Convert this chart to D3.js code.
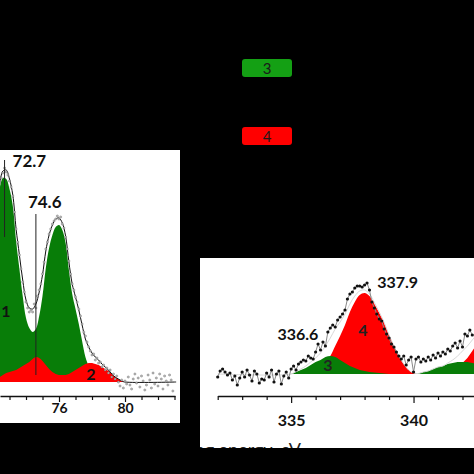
<!DOCTYPE html>
<html>
<head>
<meta charset="utf-8">
<script src="https://cdn.jsdelivr.net/npm/d3@7"></script>
<style>
  body { margin: 0; background: #000; }
  svg { display: block; }
  text { font-family: Lato, "Open Sans", sans-serif; }
</style>
</head>
<body>
<script>
// ---- left panel (Pt 4f region) ----
const leftStart = 72.4, leftStep = 0.1; // measured points, eV
const leftData = [
  199,204,209,214,210,207,201,195,186,170,
  153,140,127,113,100,90,80,74,70,72,
  70,78,74,86,92,98,108,120,133,140,
  148,153,158,161,163,166,163,165,158,154,
  145,133,121,108,98,92,85,80,73,66,
  58,50,46,40,35,31,27,28,22,24,
  19,20,15,17,12,14,9,12,5,8,
  3,6,0,-4,2,-6,1,-2,5,-3,
  -7,3,8,-1,4,-5,6,1,-8,-3,
  7,2,-6,9,-2,4,-4,8,3,-7,
  6,1,-3,7,2,-9
];
const leftGrid = [72.4,72.6,72.8,73.0,73.2,73.4,73.6,73.8,74.0,74.2,74.4,74.6,74.8,75.0,75.2,75.4,75.6,75.8,76.0,76.2,
  76.4,76.6,76.8,77.0,77.2,77.4,77.6,77.8,78.0,78.2,78.4,78.6,78.8,79.0,79.2,79.4,79.6,79.8,80.0];
const leftGreen = [193,204,203,193,176,141,113,86,64,54,50,53,66,86,114,134,147,155,157,152,
  139,112,88,73,58,41,25,16,10,7,5,3,2,1,0,0,0,0,0];
const leftRed = [5,7,9,10,11,12,14,16,18,20,23,25,24,21,17,13,10,8,7,7,
  7,8,10,12,14,16,18,19,19,18,17,15,13,11,8,5,3,1,0];
const leftPeaks = [72.7, 74.6];
const leftPeakTop = [222, 168];
const leftPeakBottom = [145, 7];
const leftTicks = [76, 80];

// ---- right panel ----
const rightStart = 332.0, rightStep = 0.1;
const rightData = [
  -3,3,5,2,-1,1,-6,-2,-11,-4,
  2,-3,4,-1,-7,3,0,-9,-5,-6,
  1,-3,4,-8,0,3,-10,-2,2,-4,
  5,8,4,10,12,14,13,18,16,15,
  22,30,24,32,28,42,46,49,47,54,
  57,60,64,75,80,82,86,88,88,87,
  89,91,84,72,66,60,55,53,45,40,
  36,30,27,22,18,15,18,9,14,17,
  2,15,17,12,15,13,17,14,19,16,
  21,18,22,20,25,23,28,31,26,33,
  27,40,38,44,39
];
const rightGrid = [335.0,335.2,335.4,335.6,335.8,336.0,336.2,336.4,336.6,336.8,337.0,337.2,337.4,337.6,337.8,338.0,338.2,338.4,338.6,338.8,
  339.0,339.2,339.4,339.6,339.8,340.0,340.2,340.4,340.6,340.8,341.0,341.2,341.4,341.6,341.8,342.0,342.2,342.4,342.6];
const rightGreen = [0,2,4,6,9,12,14,17,18,17,14,11,8,6,4,3,2,1.5,1,0.5,
  0,0,0,0,0,0,0.5,2,3,5,7,8,10,11,12,12,12,11,10];
const rightRed = [0,0.5,1,2,3,4,7,11,18,28,38,49,62,72,79,81,78,70,61,51,
  39,28,18,10,4,1,0,0,0,0,0,0,1,3,6,11,16,23,30];
const rightPeaks = [336.6, 337.9];
const rightTicks = [335, 340];
const legendLabels = ["3", "4"];

const W = 474, H = 474;
const green = "#087d08", red = "#ff0000";

const svg = d3.select("body").append("svg")
  .attr("width", W).attr("height", H)
  .style("background", "#000");

const defs = svg.append("defs");
defs.append("clipPath").attr("id", "clipL")
  .append("rect").attr("x", 0).attr("y", 150).attr("width", 180).attr("height", 273);
defs.append("clipPath").attr("id", "clipR")
  .append("rect").attr("x", 200).attr("y", 258).attr("width", 274).attr("height", 190);

// legend boxes
const legColors = [[242, 59, "#14a014"], [242, 127, red]];
legendLabels.forEach(function(lab, i) {
  svg.append("rect")
    .attr("x", legColors[i][0]).attr("y", legColors[i][1])
    .attr("width", 50).attr("height", 18).attr("rx", 3)
    .attr("fill", legColors[i][2]);
  svg.append("text")
    .attr("x", legColors[i][0] + 25).attr("y", legColors[i][1] + 15)
    .attr("text-anchor", "middle")
    .attr("font-size", 15).attr("fill", "#1a1a1a")
    .text(lab);
});

// ================= left panel =================
const gL = svg.append("g").attr("clip-path", "url(#clipL)");
gL.append("rect").attr("x", 0).attr("y", 150).attr("width", 180).attr("height", 273).attr("fill", "#fff");

const xL = d3.scaleLinear().domain([72.424, 83.03]).range([0, 175]);
const yL = d3.scaleLinear().domain([0, 232]).range([382, 150]);

const compL = leftGrid.map((e, i) => ({e: e, g: leftGreen[i], r: leftRed[i]}));
const areaL = key => d3.area().x(d => xL(d.e)).y0(yL(0)).y1(d => yL(d[key])).curve(d3.curveCatmullRom);

gL.append("path").datum(compL).attr("d", areaL("g")).attr("fill", green);
gL.append("path").datum(compL).attr("d", areaL("r")).attr("fill", red);

// fit envelope
const envL = compL.map(d => ({e: d.e, v: d.g + d.r})).concat([{e: 83.1, v: 0}]);
gL.append("path").datum(envL)
  .attr("d", d3.line().x(d => xL(d.e)).y(d => yL(d.v)).curve(d3.curveCatmullRom))
  .attr("fill", "none").attr("stroke", "#111").attr("stroke-width", 1);

const ptsL = leftData.map((v, i) => ({e: leftStart + i * leftStep, v: v}));
gL.selectAll("circle.pt").data(ptsL).enter().append("circle")
  .attr("cx", d => xL(d.e)).attr("cy", d => yL(d.v)).attr("r", 1.1)
  .attr("fill", "#bbb").attr("stroke", "#666").attr("stroke-width", 0.4);

// peak markers
leftPeaks.forEach(function(p, i) {
  gL.append("line")
    .attr("x1", xL(p)).attr("x2", xL(p))
    .attr("y1", yL(leftPeakTop[i])).attr("y2", yL(leftPeakBottom[i]))
    .attr("stroke", "#222").attr("stroke-width", 1);
});
gL.append("text").attr("x", xL(72.7) + 8).attr("y", 167)
  .attr("font-size", 17).attr("font-weight", "bold").attr("fill", "#111").text("72.7");
gL.append("text").attr("x", xL(74.6) - 8).attr("y", 208)
  .attr("font-size", 17).attr("font-weight", "bold").attr("fill", "#111").text("74.6");
gL.append("text").attr("x", 6).attr("y", 317).attr("text-anchor", "middle")
  .attr("font-size", 16).attr("font-weight", "bold").attr("fill", "#111").text("1");
gL.append("text").attr("x", 91).attr("y", 380).attr("text-anchor", "middle")
  .attr("font-size", 16).attr("font-weight", "bold").attr("fill", "#111").text("2");

const axL = gL.append("g").attr("transform", "translate(0,396)")
  .call(d3.axisBottom(xL).tickValues(d3.range(73, 84)).tickSizeInner(4).tickSizeOuter(0)
    .tickFormat(d => leftTicks.includes(d) ? d : ""));
axL.select(".domain").attr("stroke", "#111").attr("stroke-width", 1.5);
axL.selectAll(".tick line").attr("stroke", "#111").attr("stroke-width", 1.2)
  .attr("y2", d => leftTicks.includes(d) ? 6 : 4);
axL.selectAll(".tick text").attr("font-size", 14).attr("font-weight", "bold")
  .attr("fill", "#111").attr("font-family", "Lato, sans-serif").attr("y", 7);

// ================= right panel =================
const gR = svg.append("g").attr("clip-path", "url(#clipR)");
gR.append("rect").attr("x", 200).attr("y", 258).attr("width", 274).attr("height", 190).attr("fill", "#fff");

const xR = d3.scaleLinear().domain([332.0, 342.47]).range([217.7, 474]);
const yR = d3.scaleLinear().domain([0, 116]).range([374, 258]);

const compR = rightGrid.map((e, i) => ({e: e, g: rightGreen[i], r: rightRed[i]}));
const areaR = key => d3.area().x(d => xR(d.e)).y0(yR(0)).y1(d => yR(d[key])).curve(d3.curveCatmullRom);

gR.append("path").datum(compR).attr("d", areaR("r")).attr("fill", red);
gR.append("path").datum(compR).attr("d", areaR("g")).attr("fill", green);

const envR = [{e: 332.0, v: 0}].concat(compR.map(d => ({e: d.e, v: d.g + d.r})));
gR.append("path").datum(envR)
  .attr("d", d3.line().x(d => xR(d.e)).y(d => yR(d.v)).curve(d3.curveCatmullRom))
  .attr("fill", "none").attr("stroke", "#d8d8d8").attr("stroke-width", 1);

const ptsR = rightData.map((v, i) => ({e: rightStart + i * rightStep, v: v}));
gR.append("path").datum(ptsR)
  .attr("d", d3.line().x(d => xR(d.e)).y(d => yR(d.v)))
  .attr("fill", "none").attr("stroke", "#888").attr("stroke-width", 1);
gR.selectAll("circle.pt").data(ptsR).enter().append("circle")
  .attr("cx", d => xR(d.e)).attr("cy", d => yR(d.v)).attr("r", 1.6)
  .attr("fill", "#111");

gR.append("text").attr("x", xR(rightPeaks[0]) - 12).attr("y", 340).attr("text-anchor", "end")
  .attr("font-size", 16).attr("font-weight", "bold").attr("fill", "#111").text("336.6");
gR.append("text").attr("x", xR(rightPeaks[1]) + 15).attr("y", 288)
  .attr("font-size", 16).attr("font-weight", "bold").attr("fill", "#111").text("337.9");
gR.append("text").attr("x", 328).attr("y", 371).attr("text-anchor", "middle")
  .attr("font-size", 16).attr("font-weight", "bold").attr("fill", "#222").text("3");
gR.append("text").attr("x", 363).attr("y", 336).attr("text-anchor", "middle")
  .attr("font-size", 16).attr("font-weight", "bold").attr("fill", "#222").text("4");

const axR = gR.append("g").attr("transform", "translate(0,396)")
  .call(d3.axisBottom(xR).tickValues(d3.range(332, 343)).tickSizeInner(4).tickSizeOuter(0)
    .tickFormat(d => rightTicks.includes(d) ? d : ""));
axR.select(".domain").attr("stroke", "#111").attr("stroke-width", 1.5);
axR.selectAll(".tick line").attr("stroke", "#111").attr("stroke-width", 1.2)
  .attr("y2", d => rightTicks.includes(d) ? 7 : 4);
axR.selectAll(".tick text").attr("font-size", 16).attr("font-weight", "bold")
  .attr("fill", "#111").attr("font-family", "Lato, sans-serif").attr("y", 19);

gR.append("text").attr("x", 301).attr("y", 456).attr("text-anchor", "end")
  .attr("font-size", 18).attr("fill", "#222").attr("font-family", "'Open Sans', sans-serif")
  .text("Binding energy, eV");
</script>
</body>
</html>
